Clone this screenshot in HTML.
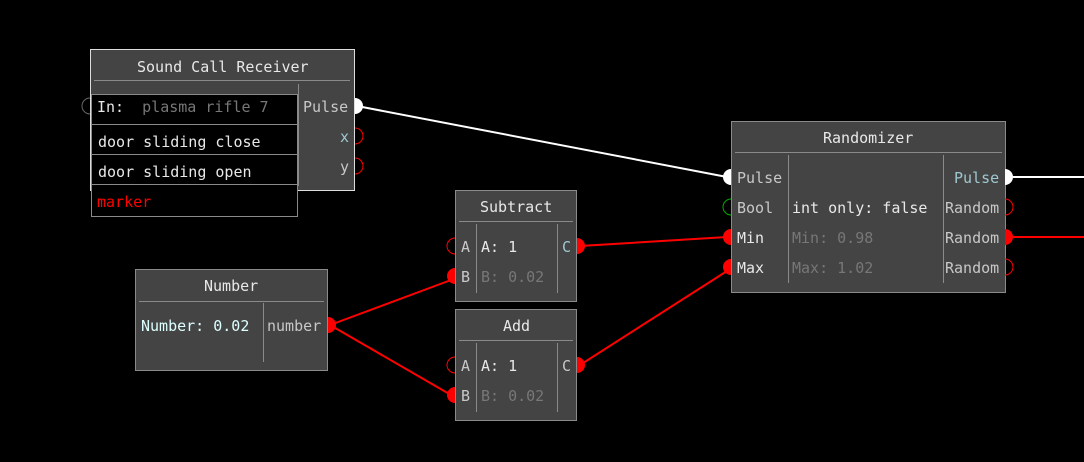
<!DOCTYPE html>
<html><head><style>
body{margin:0;width:1084px;height:462px;background:#000;position:relative;overflow:hidden;font-family:"DejaVu Sans Mono","Liberation Mono",monospace;font-size:15px;}
.n{position:absolute;background:#444;border:1px solid #8a8a8a;box-sizing:border-box;}
.t{position:absolute;color:#e8e8e8;white-space:pre;line-height:16px;}
.sep{position:absolute;height:1px;background:#8a8a8a;}
.vd{position:absolute;width:1px;background:#8a8a8a;}
.g{color:#c8c8c8}.d{color:#777}.c{color:#9fc8d0}
svg{position:absolute;left:0;top:0}
</style></head><body>

<div class="n" style="left:90px;top:49px;width:265px;height:142px;border-color:#ddd"></div>
<div class="t" style="left:137px;top:59px">Sound Call Receiver</div>
<div class="sep" style="left:94px;top:80px;width:256px"></div>
<div class="vd" style="left:298px;top:84px;height:102px"></div>
<div class="t g" style="left:303px;top:99px">Pulse</div>
<div class="t c" style="left:340px;top:129px">x</div>
<div class="t g" style="left:340px;top:159px">y</div>
<div style="position:absolute;left:91px;top:94px;width:207px;height:123px;background:#000;border:1px solid #8a8a8a;box-sizing:border-box"></div>
<div class="sep" style="left:92px;top:124px;width:205px"></div>
<div class="sep" style="left:92px;top:154px;width:205px"></div>
<div class="sep" style="left:92px;top:184px;width:205px"></div>
<div class="t" style="left:97px;top:99px">In:  <span class="d">plasma rifle 7</span></div>
<div class="t" style="left:98px;top:134px">door sliding close</div>
<div class="t" style="left:98px;top:164px">door sliding open</div>
<div class="t" style="left:97px;top:194px;color:#f00">marker</div>

<div class="n" style="left:731px;top:121px;width:275px;height:172px"></div>
<div class="t" style="left:823px;top:130px">Randomizer</div>
<div class="sep" style="left:735px;top:152px;width:267px"></div>
<div class="vd" style="left:788px;top:155px;height:128px"></div>
<div class="vd" style="left:943px;top:155px;height:128px"></div>
<div class="t g" style="left:737px;top:170px">Pulse</div>
<div class="t g" style="left:737px;top:200px">Bool</div>
<div class="t" style="left:737px;top:230px">Min</div>
<div class="t" style="left:737px;top:260px">Max</div>
<div class="t" style="left:792px;top:200px">int only: false</div>
<div class="t d" style="left:792px;top:230px">Min: 0.98</div>
<div class="t d" style="left:792px;top:260px">Max: 1.02</div>
<div class="t c" style="left:954px;top:170px">Pulse</div>
<div class="t g" style="left:945px;top:200px">Random</div>
<div class="t g" style="left:945px;top:230px">Random</div>
<div class="t g" style="left:945px;top:260px">Random</div>

<div class="n" style="left:455px;top:190px;width:122px;height:112px"></div>
<div class="t" style="left:480px;top:199px">Subtract</div>
<div class="sep" style="left:459px;top:221px;width:114px"></div>
<div class="vd" style="left:476px;top:224px;height:69px"></div>
<div class="vd" style="left:557px;top:224px;height:69px"></div>
<div class="t g" style="left:461px;top:239px">A</div>
<div class="t g" style="left:461px;top:269px">B</div>
<div class="t" style="left:481px;top:239px">A: 1</div>
<div class="t d" style="left:481px;top:269px">B: 0.02</div>
<div class="t c" style="left:562px;top:239px">C</div>

<div class="n" style="left:455px;top:309px;width:122px;height:112px"></div>
<div class="t" style="left:503px;top:318px">Add</div>
<div class="sep" style="left:459px;top:340px;width:114px"></div>
<div class="vd" style="left:476px;top:343px;height:69px"></div>
<div class="vd" style="left:557px;top:343px;height:69px"></div>
<div class="t g" style="left:461px;top:358px">A</div>
<div class="t g" style="left:461px;top:388px">B</div>
<div class="t" style="left:481px;top:358px">A: 1</div>
<div class="t d" style="left:481px;top:388px">B: 0.02</div>
<div class="t g" style="left:562px;top:358px">C</div>

<div class="n" style="left:135px;top:269px;width:193px;height:102px"></div>
<div class="t" style="left:204px;top:278px">Number</div>
<div class="sep" style="left:139px;top:301px;width:185px"></div>
<div class="vd" style="left:263px;top:303px;height:59px"></div>
<div class="t" style="left:141px;top:318px;color:#dff">Number: 0.02</div>
<div class="t g" style="left:267px;top:318px">number</div>

<svg width="1084" height="462">
<g stroke-width="2" fill="none">
<line x1="357" y1="106" x2="727" y2="177" stroke="#fff"/>
<line x1="1013" y1="177" x2="1084" y2="177" stroke="#fff"/>
<line x1="330" y1="325" x2="451" y2="280" stroke="#f00"/>
<line x1="330" y1="325" x2="451" y2="395" stroke="#f00"/>
<line x1="580" y1="246" x2="727" y2="237" stroke="#f00"/>
<line x1="580" y1="365" x2="727" y2="271" stroke="#f00"/>
<line x1="1013" y1="237" x2="1084" y2="237" stroke="#f00"/>
</g>
<g stroke-width="1" fill="none">
<path d="M90 98 A8 8 0 0 0 90 114" stroke="#666"/>
<path d="M355 128 A8 8 0 0 1 355 144" stroke="#f00"/>
<path d="M355 158 A8 8 0 0 1 355 174" stroke="#f00"/>
<path d="M731 199 A8 8 0 0 0 731 215" stroke="#0a0"/>
<path d="M1005 199 A8 8 0 0 1 1005 215" stroke="#f00"/>
<path d="M1005 259 A8 8 0 0 1 1005 275" stroke="#f00"/>
<path d="M455 238 A8 8 0 0 0 455 254" stroke="#f00"/>
<path d="M455 357 A8 8 0 0 0 455 373" stroke="#f00"/>
</g>
<g>
<path d="M355 98 A8 8 0 0 1 355 114Z" fill="#fff"/>
<path d="M731 169 A8 8 0 0 0 731 185Z" fill="#fff"/>
<path d="M1005 169 A8 8 0 0 1 1005 185Z" fill="#fff"/>
<path d="M731 229 A8 8 0 0 0 731 245Z" fill="#f00"/>
<path d="M731 259 A8 8 0 0 0 731 275Z" fill="#f00"/>
<path d="M1005 229 A8 8 0 0 1 1005 245Z" fill="#f00"/>
<path d="M455 268 A8 8 0 0 0 455 284Z" fill="#f00"/>
<path d="M455 387 A8 8 0 0 0 455 403Z" fill="#f00"/>
<path d="M577 238 A8 8 0 0 1 577 254Z" fill="#f00"/>
<path d="M577 357 A8 8 0 0 1 577 373Z" fill="#f00"/>
<path d="M328 317 A8 8 0 0 1 328 333Z" fill="#f00"/>
</g>
</svg>
</body></html>
